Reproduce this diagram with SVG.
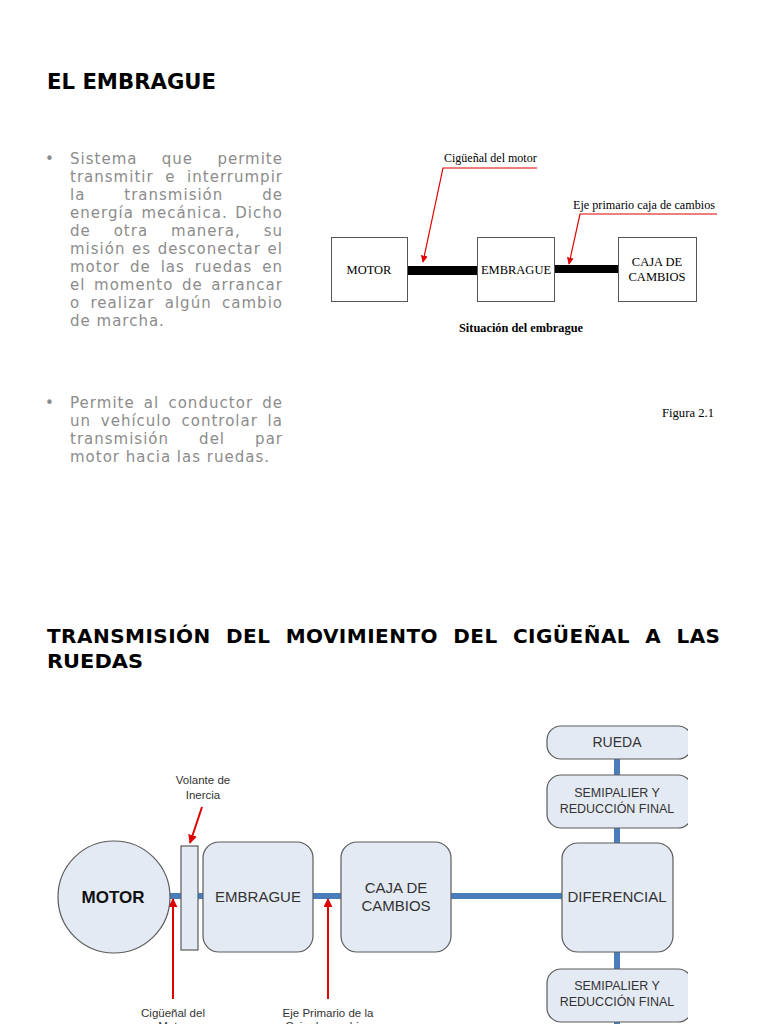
<svg xmlns="http://www.w3.org/2000/svg" width="768" height="1024" viewBox="0 0 768 1024">
<style>
.h{font-family:"DejaVu Sans",sans-serif;font-weight:bold;fill:#000}
.b{font-family:"DejaVu Sans",sans-serif;font-size:15px;letter-spacing:1px;fill:#8c8c8c}
.s{font-family:"Liberation Serif",serif;font-size:12px;fill:#000}
.sb{font-family:"Liberation Serif",serif;font-size:12.5px;fill:#000}
.box1{fill:#fff;stroke:#555;stroke-width:1}
.node{fill:#e4eaf4;stroke:#5a5a5a;stroke-width:1.2}
.t{font-family:"Liberation Sans",Arial,sans-serif;fill:#333;text-anchor:middle}
.lbl{font-family:"Liberation Sans",Arial,sans-serif;font-size:11.5px;fill:#333;text-anchor:middle}
.shaft{stroke:#4a7ebb;stroke-width:6;fill:none}
.red{stroke:#e00000;stroke-width:1.2;fill:none}
.redb{stroke:#e00000;stroke-width:2;fill:none}
</style>
<defs>
<marker id="ar" viewBox="0 0 10 10" refX="9" refY="5" markerWidth="7" markerHeight="7" orient="auto" markerUnits="userSpaceOnUse"><path d="M0,0 L10,5 L0,10 z" fill="#e00000"/></marker>
<marker id="ar2" viewBox="0 0 10 10" refX="9" refY="5" markerWidth="9" markerHeight="9" orient="auto" markerUnits="userSpaceOnUse"><path d="M0,0 L10,5 L0,10 z" fill="#e00000"/></marker>
<clipPath id="cr"><rect x="0" y="0" width="688" height="1024"/></clipPath>
</defs>
<rect width="768" height="1024" fill="#fff"/>

<text class="h" x="47" y="89" font-size="21" textLength="169" lengthAdjust="spacingAndGlyphs">EL EMBRAGUE</text>

<g id="bullets">
<text class="b" x="45" y="164" letter-spacing="0">•</text>
<text class="b" x="70" y="164" word-spacing="18.5" textLength="213" lengthAdjust="spacing">Sistema que permite</text>
<text class="b" x="70" y="182" word-spacing="5.8" textLength="213" lengthAdjust="spacing">transmitir e interrumpir</text>
<text class="b" x="70" y="200" word-spacing="33.2" textLength="213" lengthAdjust="spacing">la transmisión de</text>
<text class="b" x="70" y="218" word-spacing="1.8" textLength="213" lengthAdjust="spacing">energía mecánica. Dicho</text>
<text class="b" x="70" y="236" word-spacing="17.2" textLength="213" lengthAdjust="spacing">de otra manera, su</text>
<text class="b" x="70" y="254" word-spacing="0.9" textLength="213" lengthAdjust="spacing">misión es desconectar el</text>
<text class="b" x="70" y="272" word-spacing="4.2" textLength="213" lengthAdjust="spacing">motor de las ruedas en</text>
<text class="b" x="70" y="290" word-spacing="2.8" textLength="213" lengthAdjust="spacing">el momento de arrancar</text>
<text class="b" x="70" y="308" word-spacing="4.5" textLength="213" lengthAdjust="spacing">o realizar algún cambio</text>
<text class="b" x="70" y="326">de marcha.</text>
<text class="b" x="45" y="408" letter-spacing="0">•</text>
<text class="b" x="70" y="408" word-spacing="3.3" textLength="213" lengthAdjust="spacing">Permite al conductor de</text>
<text class="b" x="70" y="426" word-spacing="3.9" textLength="213" lengthAdjust="spacing">un vehículo controlar la</text>
<text class="b" x="70" y="444" word-spacing="24.3" textLength="213" lengthAdjust="spacing">transmisión del par</text>
<text class="b" x="70" y="462">motor hacia las ruedas.</text>
</g>

<g id="fig21">
<g id="f-connectors">
<rect x="408" y="266" width="69" height="9" fill="#000"/>
<rect x="555" y="265" width="64" height="8" fill="#000"/>
<polyline class="red" points="537,168 443,168 423,262" marker-end="url(#ar)"/>
<polyline class="red" points="717,214 580,214 569,264" marker-end="url(#ar)"/>
</g>
<g id="f-motor"><rect class="box1" x="331.5" y="237.5" width="76" height="64"/><text class="sb" x="369" y="274" text-anchor="middle" font-size="13">MOTOR</text></g>
<g id="f-embrague"><rect class="box1" x="477.5" y="237.5" width="77" height="64"/><text class="sb" x="516" y="274" text-anchor="middle">EMBRAGUE</text></g>
<g id="f-caja"><rect class="box1" x="618.5" y="237.5" width="78" height="64"/><text class="sb" x="657" y="266" text-anchor="middle">CAJA DE</text><text class="sb" x="657" y="281" text-anchor="middle">CAMBIOS</text></g>
<text class="s" x="444" y="162">Cigüeñal del motor</text>
<text class="s" x="573" y="209" textLength="142" lengthAdjust="spacingAndGlyphs">Eje primario caja de cambios</text>
<text class="sb" x="521" y="332" text-anchor="middle" font-weight="bold" textLength="124" lengthAdjust="spacingAndGlyphs">Situación del embrague</text>
<text class="sb" x="662" y="417" textLength="52" lengthAdjust="spacingAndGlyphs">Figura 2.1</text>
</g>

<text class="h" x="47" y="643" font-size="20" word-spacing="7.8" textLength="673" lengthAdjust="spacing">TRANSMISIÓN DEL MOVIMIENTO DEL CIGÜEÑAL A LAS</text>
<text class="h" x="47" y="668" font-size="20" textLength="96" lengthAdjust="spacingAndGlyphs">RUEDAS</text>

<g id="connectors">
<line class="shaft" x1="168" y1="896" x2="205" y2="896"/>
<line class="shaft" x1="312" y1="896" x2="342" y2="896"/>
<line class="shaft" x1="450" y1="896" x2="563" y2="896"/>
<line class="shaft" x1="617" y1="758" x2="617" y2="776"/>
<line class="shaft" x1="617" y1="827" x2="617" y2="844"/>
<line class="shaft" x1="617" y1="951" x2="617" y2="971"/>
<line class="shaft" x1="617" y1="1020" x2="617" y2="1030"/>
<line class="redb" x1="202" y1="807" x2="190" y2="843" marker-end="url(#ar2)"/>
<line class="redb" x1="173" y1="999" x2="173" y2="899" marker-end="url(#ar2)"/>
<line class="redb" x1="328" y1="999" x2="328" y2="899" marker-end="url(#ar2)"/>
</g>

<g id="motor"><circle class="node" cx="114" cy="897" r="56"/><text class="t" x="113" y="903" font-size="17" font-weight="bold" style="fill:#111">MOTOR</text></g>
<g id="volante"><rect class="node" x="181" y="846" width="17" height="104"/></g>
<g id="embrague"><rect class="node" x="203" y="842" width="110" height="110" rx="16"/><text class="t" x="258" y="902" font-size="15">EMBRAGUE</text></g>
<g id="caja"><rect class="node" x="341" y="842" width="110" height="110" rx="16"/><text class="t" x="396" y="893" font-size="15">CAJA DE</text><text class="t" x="396" y="911" font-size="15">CAMBIOS</text></g>
<g id="diferencial"><rect class="node" x="562" y="843" width="111" height="109" rx="16"/><text class="t" x="617" y="902" font-size="15">DIFERENCIAL</text></g>
<g clip-path="url(#cr)">
<g id="rueda"><rect class="node" x="547" y="726" width="145" height="33" rx="14"/><text class="t" x="617" y="747" font-size="14">RUEDA</text></g>
<g id="semipalier1"><rect class="node" x="547" y="775" width="145" height="53" rx="14"/><text class="t" x="617" y="797" font-size="12.5">SEMIPALIER Y</text><text class="t" x="617" y="813" font-size="12.5">REDUCCIÓN FINAL</text></g>
<g id="semipalier2"><rect class="node" x="547" y="969" width="145" height="53" rx="14"/><text class="t" x="617" y="990" font-size="12.5">SEMIPALIER Y</text><text class="t" x="617" y="1006" font-size="12.5">REDUCCIÓN FINAL</text></g>
</g>

<g id="labels">
<text class="lbl" x="203" y="784">Volante de</text>
<text class="lbl" x="203" y="799">Inercia</text>
<text class="lbl" x="173" y="1017">Cigüeñal del</text>
<text class="lbl" x="173" y="1030">Motor</text>
<text class="lbl" x="328" y="1017">Eje Primario de la</text>
<text class="lbl" x="328" y="1030">Caja de cambios</text>
</g>
</svg>
